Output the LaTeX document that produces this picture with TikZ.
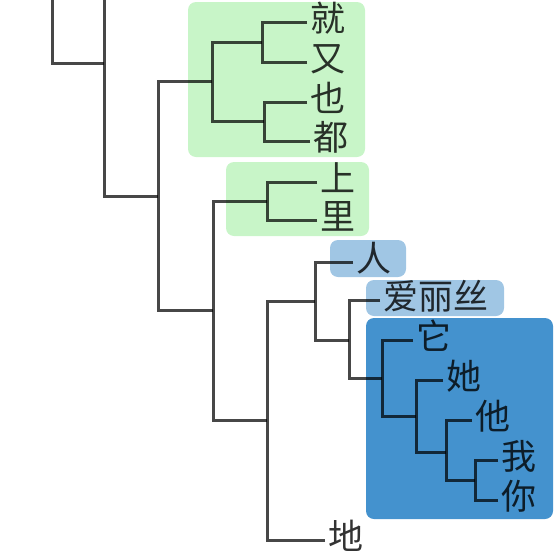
\documentclass[tikz,border=0pt]{standalone}
\usepackage{fontspec}
\newfontfamily\cjk{Noto Sans CJK SC}
\definecolor{grnbox}{RGB}{200,245,200}
\definecolor{lbluebox}{RGB}{160,198,228}
\definecolor{dbluebox}{RGB}{68,146,206}
\begin{document}
\begin{tikzpicture}[x=1pt,y=-1pt,
  link/.style={draw=black, draw opacity=0.72, line width=3pt},
  leaf/.style={anchor=west, inner xsep=3pt, inner ysep=0pt, text height=23pt, text depth=4pt,
    font=\cjk\fontsize{35}{35}\selectfont, text=black, text opacity=0.8},
  hbox/.style={rounded corners=8pt}]
\useasboundingbox (0,0) rectangle (560,560);
\clip (0,0) rectangle (560,560);
% highlight boxes
\fill[hbox, grnbox] (188,2) rectangle (365,157);
\fill[hbox, grnbox] (226,162) rectangle (369,236);
\fill[hbox, lbluebox] (330,240) rectangle (406,277);
\fill[hbox, lbluebox] (366,280) rectangle (504,316);
\fill[hbox, dbluebox] (366,318) rectangle (553,519);
% junctions
\coordinate (j0) at (52,-20);
\coordinate (hid1) at (104,-20);
\coordinate (j1) at (104,63);
\coordinate (j2) at (158,196);
\coordinate (j3) at (212,81);
\coordinate (j4) at (262,42);
\coordinate (j5) at (264,121);
\coordinate (j6) at (213,310);
\coordinate (j7) at (267,201);
\coordinate (j8) at (267,420);
\coordinate (j9) at (315,301);
\coordinate (j10) at (349,340);
\coordinate (j11) at (382,378);
\coordinate (j12) at (416,416);
\coordinate (j13) at (446,452);
\coordinate (j14) at (475,480);
% leaves
\node[leaf] (jiu) at (307,22) {就};
\node[leaf] (you) at (307,62) {又};
\node[leaf] (ye) at (307,102) {也};
\node[leaf] (dou) at (310,141) {都};
\node[leaf] (shang) at (317,182) {上};
\node[leaf] (li) at (317,220) {里};
\node[leaf] (ren) at (353,262) {人};
\node[leaf] (alice) at (380,300) {爱丽丝};
\node[leaf] (ta3) at (413,340) {它};
\node[leaf] (ta2) at (443,380) {她};
\node[leaf] (ta1) at (472,420) {他};
\node[leaf] (wo) at (498,460) {我};
\node[leaf] (ni) at (498,500) {你};
\node[leaf] (di) at (325,540) {地};
% connectors
\draw[link] (j1) -| (j0);
\draw[link] (hid1) -- (j1);
\draw[link] (j2) -| (j1);
\draw[link] (j3) -| (j2);
\draw[link] (j6) -| (j2);
\draw[link] (j4) -| (j3);
\draw[link] (j5) -| (j3);
\draw[link] (jiu.west) -| (j4);
\draw[link] (you.west) -| (j4);
\draw[link] (ye.west) -| (j5);
\draw[link] (dou.west) -| (j5);
\draw[link] (j7) -| (j6);
\draw[link] (j8) -| (j6);
\draw[link] (shang.west) -| (j7);
\draw[link] (li.west) -| (j7);
\draw[link] (j9) -| (j8);
\draw[link] (di.west) -| (j8);
\draw[link] (ren.west) -| (j9);
\draw[link] (j10) -| (j9);
\draw[link] (alice.west) -| (j10);
\draw[link] (j11) -| (j10);
\draw[link] (ta3.west) -| (j11);
\draw[link] (j12) -| (j11);
\draw[link] (ta2.west) -| (j12);
\draw[link] (j13) -| (j12);
\draw[link] (ta1.west) -| (j13);
\draw[link] (j14) -| (j13);
\draw[link] (wo.west) -| (j14);
\draw[link] (ni.west) -| (j14);
\end{tikzpicture}
\end{document}
